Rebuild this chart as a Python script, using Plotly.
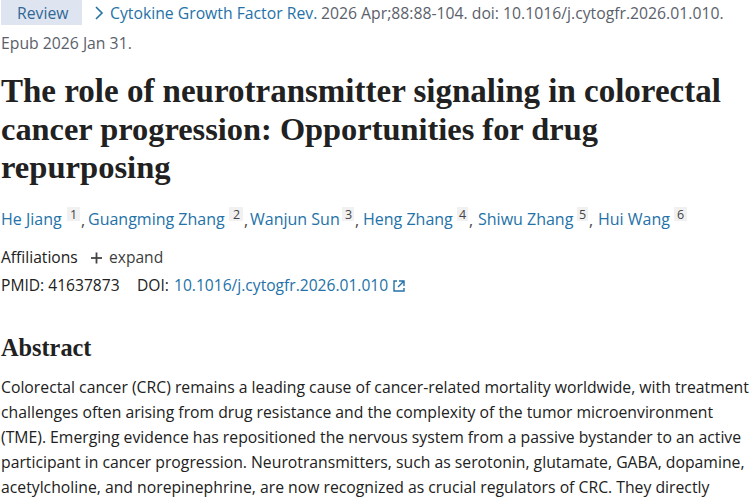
import plotly.graph_objects as go

SANS = "Open Sans"
SERIF = "Liberation Serif"
BLUE = "#2472a8"
GREY = "#5b616b"
DARK = "#212121"

# text runs: text, left x, middle y, colour, size
meta_runs = [
    ("Review", 17, 13, "#2f6796", 15.75),
    ("Cytokine Growth Factor Rev.", 110, 13, BLUE, 15.75),
    ("2026 Apr;88:88-104. doi: 10.1016/j.cytogfr.2026.01.010.", 321, 13, GREY, 15.75),
    ("Epub 2026 Jan 31.", 1, 43, GREY, 15.75),
]
title_lines = [
    "The role of neurotransmitter signaling in colorectal",
    "cancer progression: Opportunities for drug",
    "repurposing",
]
title_y = [91, 129, 167]
title_size = [33, 32.4, 32.6]

author_names = ["He Jiang", "Guangming Zhang", "Wanjun Sun", "Heng Zhang", "Shiwu Zhang", "Hui Wang"]
author_x = [1, 88, 250, 363, 478, 598]
sup_labels = ["1", "2", "3", "4", "5", "6"]
sup_left = [67, 229, 342, 457, 577, 674]
sup_right = [80, 243, 354, 468, 588, 687]

info_runs = [
    ("Affiliations", 1, 257, DARK),
    ("expand", 109, 257, "#3d3d3d"),
    ("PMID: 41637873", 1, 285, DARK),
    ("DOI:", 137, 285, DARK),
    ("10.1016/j.cytogfr.2026.01.010", 174, 285, BLUE),
]

abstract_lines = [
    "Colorectal cancer (CRC) remains a leading cause of cancer-related mortality worldwide, with treatment",
    "challenges often arising from drug resistance and the complexity of the tumor microenvironment",
    "(TME). Emerging evidence has repositioned the nervous system from a passive bystander to an active",
    "participant in cancer progression. Neurotransmitters, such as serotonin, glutamate, GABA, dopamine,",
    "acetylcholine, and norepinephrine, are now recognized as crucial regulators of CRC. They directly",
]
abstract_y = [387, 412, 437, 462, 487]


def label(text, x, y, color, size, family=SANS, xanchor="left"):
    return dict(
        text=text, x=x, y=y, xref="x", yref="y", xanchor=xanchor, yanchor="middle",
        showarrow=False, align="left", font=dict(family=family, size=size, color=color),
        borderpad=0, borderwidth=0,
    )


annotations = []
shapes = [dict(type="rect", x0=1, x1=82, y0=0, y1=25, fillcolor="#dfe5f0", line_width=0, layer="below")]

for text, x, y, color, size in meta_runs:
    annotations.append(label(text, x, y, color, size))

# chevron in front of the journal name
shapes.append(dict(type="path", path="M 96 7 L 102 13 L 96 19", line=dict(color=BLUE, width=1.6)))

for text, y, size in zip(title_lines, title_y, title_size):
    annotations.append(label("<b>" + text + "</b>", 1, y, "#212121", size, SERIF))

for i, name in enumerate(author_names):
    annotations.append(label(name, author_x[i], 219, BLUE, 16))
    shapes.append(dict(type="rect", x0=sup_left[i], x1=sup_right[i], y0=207, y1=221,
                       fillcolor="#f1f1f1", line_width=0, layer="below"))
    annotations.append(label(sup_labels[i], (sup_left[i] + sup_right[i]) / 2, 214, "#444444", 12.5, xanchor="center"))
    if i < len(author_names) - 1:
        annotations.append(label(",", sup_right[i] + 1, 220, "#444444", 15.75))

for text, x, y, color in info_runs:
    annotations.append(label(text, x, y, color, 15.6))

# plus sign next to "expand"
shapes.append(dict(type="line", x0=91, x1=102, y0=258, y1=258, line=dict(color="#444444", width=1.8)))
shapes.append(dict(type="line", x0=96.5, x1=96.5, y0=252.5, y1=263.5, line=dict(color="#444444", width=1.8)))

# external link icon
shapes.append(dict(type="path", path="M 397 281 L 394 281 L 394 291 L 404 291 L 404 288",
                   line=dict(color=BLUE, width=1.4)))
shapes.append(dict(type="path", path="M 399 281 L 404 281 L 404 286 M 404 281 L 398 287",
                   line=dict(color=BLUE, width=1.4)))

annotations.append(label("<b>Abstract</b>", 1, 347, "#212121", 24.3, SERIF))

for text, y in zip(abstract_lines, abstract_y):
    annotations.append(label(text, 1, y, DARK, 15.75))

fig = go.Figure()
fig.update_layout(
    width=750, height=500,
    margin=dict(l=0, r=0, t=0, b=0),
    paper_bgcolor="white", plot_bgcolor="white",
    xaxis=dict(range=[0, 750], visible=False, fixedrange=True),
    yaxis=dict(range=[500, 0], visible=False, fixedrange=True),
    annotations=annotations,
    shapes=shapes,
    showlegend=False,
)
# page margin would push the whole picture 8px off
fig.write_html("out.html", config=dict(displayModeBar=False),
               post_script="document.body.style.margin='0';")
